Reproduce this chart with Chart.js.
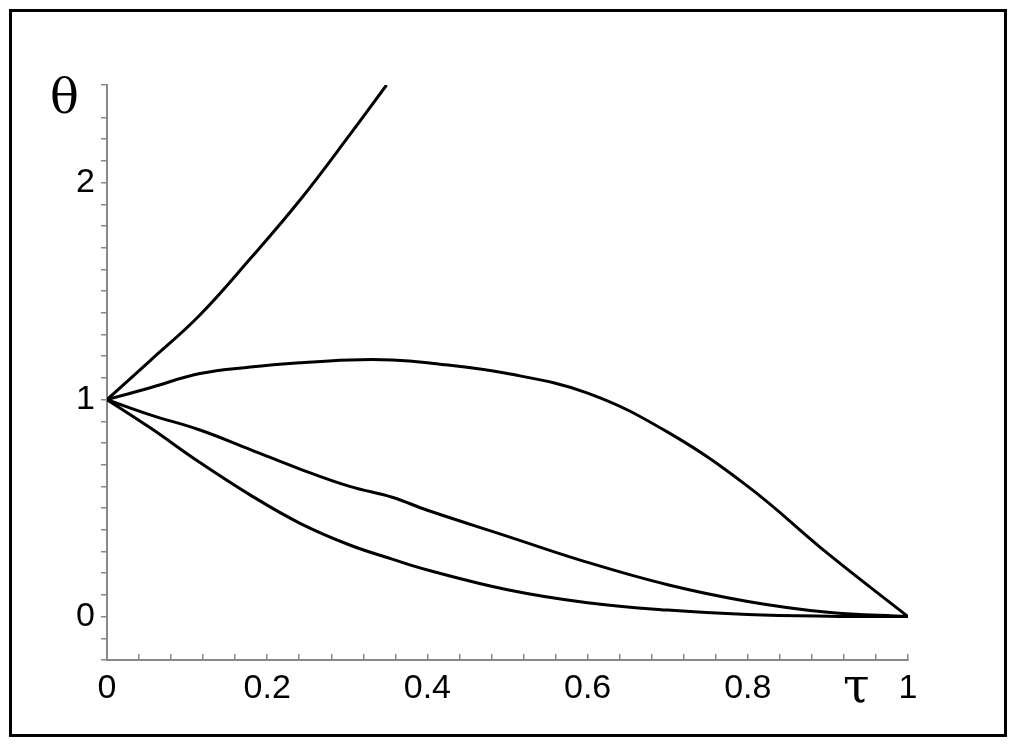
<!DOCTYPE html>
<html>
<head>
<meta charset="utf-8">
<script src="https://cdn.jsdelivr.net/npm/chart.js@4"></script>
<style>
  body { margin: 0; background: #fff; }
  #frame { position: absolute; left: 9px; top: 9px; width: 992px; height: 722px; border: 3px solid #000; }
</style>
</head>
<body>
<div id="frame"></div>
<canvas id="c" width="1024" height="749" style="position:absolute;left:0;top:0"></canvas>
<script>
const tau = [0, 0.054, 0.116, 0.179, 0.241, 0.303, 0.356, 0.4, 0.5, 0.6, 0.7, 0.8, 0.9, 1];
const tauTop = [0, 0.054, 0.116, 0.179, 0.241, 0.303, 0.349];
const thetaTop = [1, 1.18, 1.39, 1.65, 1.92, 2.22, 2.45];
const thetaHump = [1, 1.055, 1.12, 1.15, 1.17, 1.183, 1.183, 1.17, 1.12, 1.03, 0.85, 0.6, 0.29, 0];
const thetaMid = [1, 0.93, 0.86, 0.77, 0.68, 0.6, 0.55, 0.49, 0.37, 0.25, 0.147, 0.07, 0.02, 0];
const thetaLow = [1, 0.87, 0.71, 0.56, 0.43, 0.33, 0.265, 0.215, 0.124, 0.064, 0.03, 0.01, 0.002, 0];

function pts(xs, ys) { return xs.map((x, i) => ({ x: x, y: ys[i] })); }
function line(data) {
    return { data: data, borderColor: '#000', borderWidth: 3, pointRadius: 0, fill: false, tension: 0.4 };
}

const symbols = {
    id: 'symbols',
    afterDraw(chart) {
        const c = chart.ctx;
        c.save();
        c.fillStyle = '#000';
        c.font = '48px "DejaVu Serif", serif';
        c.fillText('θ', 50, 113);
        c.fillText('τ', 843, 702);
        c.restore();
    }
};

new Chart(document.getElementById('c').getContext('2d'), {
    type: 'scatter',
    data: {
        datasets: [
            line(pts(tauTop, thetaTop)),
            line(pts(tau, thetaHump)),
            line(pts(tau, thetaMid)),
            line(pts(tau, thetaLow))
        ]
    },
    options: {
        responsive: false,
        animation: false,
        showLine: true,
        layout: { padding: { top: 85, right: 116, left: 0, bottom: 0 } },
        plugins: { legend: { display: false }, tooltip: { enabled: false } },
        scales: {
            x: {
                type: 'linear', min: 0, max: 1,
                afterFit(s) { s.height = 89; },
                grid: { drawOnChartArea: false, tickLength: -6, color: '#888', lineWidth: 1.5 },
                border: { color: '#888', width: 2 },
                ticks: {
                    stepSize: 0.04, autoSkip: false, maxRotation: 0, color: '#000', padding: 14,
                    font: { family: 'Liberation Sans', size: 34 },
                    callback: v => Math.abs(v * 5 - Math.round(v * 5)) < 1e-6 ? String(Math.round(v * 5) / 5) : ''
                }
            },
            y: {
                type: 'linear', min: -0.2, max: 2.45,
                afterFit(s) { s.width = 107; },
                grid: { drawOnChartArea: false, tickLength: 6, color: '#888', lineWidth: 1.5 },
                border: { color: '#888', width: 2 },
                ticks: {
                    stepSize: 0.1, autoSkip: false, color: '#000', padding: 6,
                    font: { family: 'Liberation Sans', size: 34 },
                    callback: v => Math.abs(v - Math.round(v)) < 1e-6 ? String(Math.round(v)) : ''
                }
            }
        }
    },
    plugins: [symbols]
});
</script>
</body>
</html>
